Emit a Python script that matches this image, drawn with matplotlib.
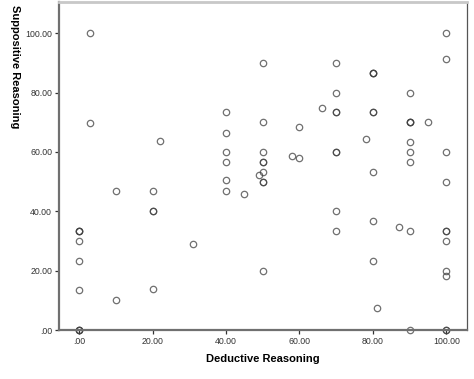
import matplotlib
matplotlib.use("Agg")
import matplotlib.pyplot as plt

plt.rcParams["font.family"] = ["Liberation Sans", "DejaVu Sans"]

# scores (duplicates = the darker, overlapping circles)
deductive = [
    0, 0, 0, 0, 0, 0, 0, 0, 0,
    3, 3,
    10, 10,
    20, 20, 20, 20, 22,
    31,
    40, 40, 40, 40, 40, 40,
    45,
    49, 50, 50, 50, 50, 50, 50, 50, 50, 50,
    58, 60, 60,
    66,
    70, 70, 70, 70, 70, 70, 70, 70,
    78,
    80, 80, 80, 80, 80, 80, 80, 80,
    81, 87,
    90, 90, 90, 90, 90, 90, 90, 90, 90,
    95,
    100, 100, 100, 100, 100, 100, 100, 100, 100, 100, 100,
]
suppositive = [
    33.33, 33.33, 30, 23.33, 13.33, 0, 0, 33.33, 0,
    100, 69.67,
    46.67, 10,
    46.67, 40, 40, 13.67, 63.67,
    29,
    73.33, 66.33, 60, 56.67, 50.67, 46.67,
    45.67,
    52.33, 90, 70, 60, 56.67, 56.67, 53.33, 50, 50, 20,
    58.67, 68.33, 58,
    74.67,
    90, 80, 73.33, 73.33, 60, 60, 40, 33.33,
    64.33,
    86.67, 86.67, 73.33, 73.33, 53.33, 36.67, 23.33, 86.67,
    7.33, 34.67,
    80, 70, 70, 63.33, 60, 56.67, 33.33, 0, 70,
    70,
    100, 91.33, 60, 50, 33.33, 33.33, 30, 20, 18.33, 0, 0,
]

x_ticks = [0, 20, 40, 60, 80, 100]
y_ticks = [0, 20, 40, 60, 80, 100]
x_ticklabels = [".00", "20.00", "40.00", "60.00", "80.00", "100.00"]
y_ticklabels = [".00", "20.00", "40.00", "60.00", "80.00", "100.00"]

fig = plt.figure(figsize=(4.74, 3.79), dpi=100)
ax = fig.add_axes([59 / 474, 49 / 379, 408 / 474, 328 / 379])

ax.plot(deductive, suppositive, "o", ms=4.6, mfc="none",
        mec=(0.25, 0.25, 0.25, 0.75), mew=0.9, clip_on=False)

ax.set_xlim(-5.45, 105.6)
ax.set_ylim(0, 110.5)
ax.set_xticks(x_ticks)
ax.set_xticklabels(x_ticklabels)
ax.set_yticks(y_ticks)
ax.set_yticklabels(y_ticklabels)
ax.tick_params(labelsize=6.3, colors="#333333", length=3, width=0.9, pad=2)

for side in ["left", "bottom"]:
    ax.spines[side].set_color("#707070")
    ax.spines[side].set_linewidth(1.6)
ax.spines["right"].set_color("#555555")
ax.spines["right"].set_linewidth(0.9)
ax.spines["top"].set_color("#c8c8c8")
ax.spines["top"].set_linewidth(2)

ax.set_xlabel("Deductive Reasoning", fontsize=8, fontweight="bold", labelpad=6)
fig.text(15 / 474, 1 - 67 / 379, "Suppositive Reasoning", rotation=270,
         fontsize=8, fontweight="bold", ha="center", va="center")

fig.savefig("out.png", dpi=100)
